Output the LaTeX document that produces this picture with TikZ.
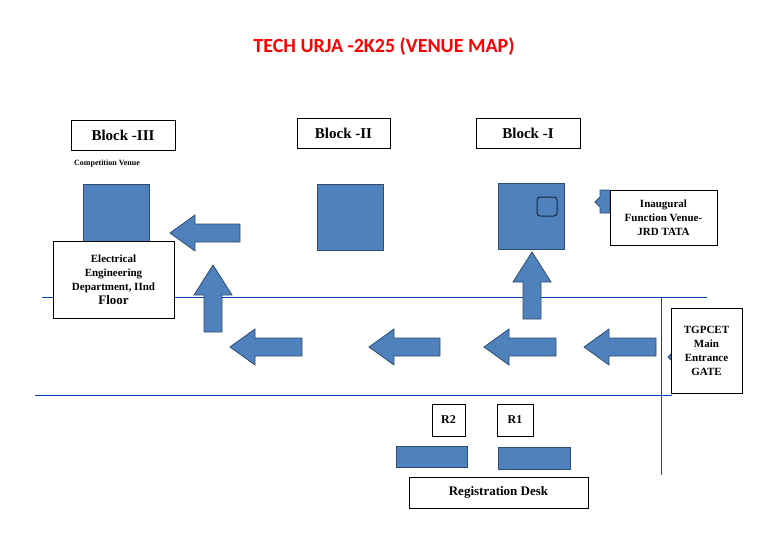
\documentclass[tikz,border=0pt]{standalone}
\usepackage{fontspec}
\setmainfont{Liberation Serif}
\newfontfamily\titlefont{Carlito}
\begin{document}
\begin{tikzpicture}[x=1pt,y=-1pt,
  blk/.style={fill=blue!45!cyan!60!black!80,draw=blue!40!black,line width=0.8pt},
  lbl/.style={draw=black,fill=white,line width=0.8pt,font=\bfseries,inner sep=2pt,align=center},
  ln/.style={draw=blue!60!cyan!70!black,line width=0.5pt}]
\definecolor{bl}{RGB}{79,129,189}
\tikzset{blk/.style={fill=bl,draw=bl!60!black,line width=0.8pt}}
\useasboundingbox (0,0) rectangle (768,544);
\newcommand\larrow[3]{% tip x, right x, cy
  \draw[blk] (#1,#3) -- (#1+25,#3-18) -- (#1+25,#3-9) -- (#2,#3-9) -- (#2,#3+9) -- (#1+25,#3+9) -- (#1+25,#3+18) -- cycle;}
\newcommand\uarrow[3]{% cx, tip y, bottom y
  \draw[blk] (#1,#2) -- (#1+19,#2+30) -- (#1+9,#2+30) -- (#1+9,#3) -- (#1-9,#3) -- (#1-9,#2+30) -- (#1-19,#2+30) -- cycle;}
\node[text=red,font=\titlefont\bfseries\fontsize{20}{24}\selectfont] (title) at (384,47) {TECH URJA -2K25 (VENUE MAP)};
% lines
\draw[ln] (42,297) coordinate (l1a) -- (707,297) coordinate (l1b);
\draw[ln] (35,395) coordinate (l2a) -- (672,395) coordinate (l2b);
\draw[ln] (661,297) coordinate (va) -- (661,475) coordinate (vb);
% buildings
\draw[blk] (83,184) rectangle (149,250);
\draw[blk] (317,184) rectangle (383,250);
\draw[blk] (498,183) rectangle (564,249);
\draw[bl!30!black,line width=1pt,fill=bl,rounded corners=3pt] (537,197) rectangle (557,216);
% arrows
\larrow{170}{240}{233}
\larrow{230}{302}{347}
\larrow{369}{440}{347}
\larrow{484}{556}{347}
\larrow{584}{656}{347}
\uarrow{213}{265}{332}
\uarrow{532}{252}{319}
% labels
\node[lbl,minimum width=104pt,minimum height=30pt,font=\bfseries\fontsize{15}{18}\selectfont] (b3) at (123,135) {Block -III};
\node[lbl,minimum width=93pt,minimum height=30pt,font=\bfseries\fontsize{15}{18}\selectfont] (b2) at (343.5,133) {Block -II};
\node[lbl,minimum width=104pt,minimum height=30pt,font=\bfseries\fontsize{15}{18}\selectfont] (b1) at (528,133) {Block -I};
\node[font=\bfseries\fontsize{8}{10}\selectfont] (cv) at (107,164) {Competition Venue};
\node[lbl,minimum width=121pt,minimum height=77pt,font=\bfseries\fontsize{11}{14}\selectfont] (ee) at (113.5,279.5) {Electrical\\Engineering\\Department, IInd\\{\fontsize{13}{14}\selectfont Floor}};
% callout pointer
\draw[blk] (595,202) -- (600,197) -- (600,190) -- (610,190) -- (610,213) -- (600,213) -- (600,207) -- cycle;
\node[lbl,minimum width=107pt,minimum height=55pt,font=\bfseries\fontsize{11}{14}\selectfont] (inaug) at (663.5,217.5) {Inaugural\\Function Venue-\\JRD TATA};
\draw[blk] (668,357) -- (672,353) -- (672,361) -- cycle;
\node[lbl,minimum width=71pt,minimum height=85pt,font=\bfseries\fontsize{11}{14}\selectfont] (gate) at (706.5,350.5) {TGPCET\\Main\\Entrance\\GATE};
% registration
\node[lbl,minimum width=33pt,minimum height=32pt,font=\bfseries\fontsize{12}{14}\selectfont] (r2) at (448.5,420) {R2};
\node[lbl,minimum width=36pt,minimum height=32pt,font=\bfseries\fontsize{12}{14}\selectfont] (r1) at (515,420) {R1};
\draw[blk] (396,446) rectangle (467,467);
\draw[blk] (498,447) rectangle (570,469);
\node[lbl,minimum width=179pt,minimum height=31pt,font=\bfseries\fontsize{13}{16}\selectfont] (reg) at (498.5,492.5) {Registration Desk};
\end{tikzpicture}
\end{document}
